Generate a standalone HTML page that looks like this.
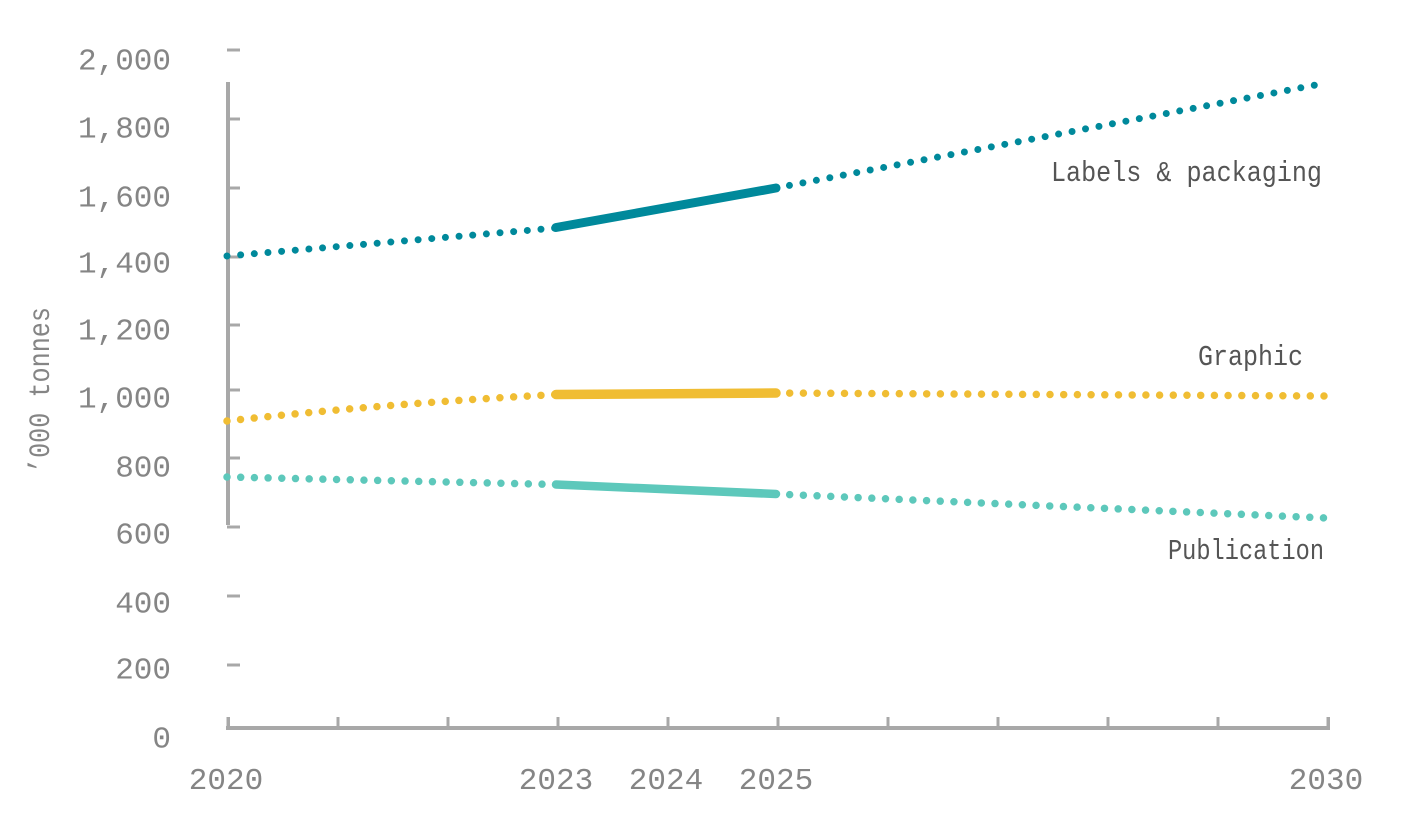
<!DOCTYPE html>
<html>
<head>
<meta charset="utf-8">
<style>
  html,body{margin:0;padding:0;background:#ffffff;}
  body{width:1425px;height:823px;overflow:hidden;}
  svg{display:block;}
  .tick{font-family:"Liberation Mono","DejaVu Sans Mono",monospace;font-size:31px;fill:#858585;}
  .cat{font-family:"Liberation Mono","DejaVu Sans Mono",monospace;font-size:29px;fill:#555555;}
</style>
</head>
<body>
<svg width="1425" height="823" viewBox="0 0 1425 823" xmlns="http://www.w3.org/2000/svg">
  <!-- Y axis -->
  <line x1="228" y1="82" x2="228" y2="525" stroke="#a8a8a8" stroke-width="4"/>
  <g fill="#a8a8a8">
    <rect x="227" y="48.5" width="13" height="3"/>
    <rect x="227" y="117.5" width="13" height="3"/>
    <rect x="227" y="186.5" width="13" height="3"/>
    <rect x="227" y="255.5" width="13" height="3"/>
    <rect x="227" y="323.5" width="13" height="3"/>
    <rect x="227" y="388.5" width="13" height="3"/>
    <rect x="227" y="456.5" width="13" height="3"/>
    <rect x="227" y="525.5" width="13" height="3"/>
    <rect x="227" y="594.5" width="13" height="3"/>
    <rect x="227" y="663.5" width="13" height="3"/>
  </g>
  <!-- Y labels -->
  <g class="tick" text-anchor="end">
    <text x="171" y="69.5">2,000</text>
    <text x="171" y="137.5">1,800</text>
    <text x="171" y="206.5">1,600</text>
    <text x="171" y="272.5">1,400</text>
    <text x="171" y="339.5">1,200</text>
    <text x="171" y="407.5">1,000</text>
    <text x="171" y="476.5">800</text>
    <text x="171" y="543.5">600</text>
    <text x="171" y="612.5">400</text>
    <text x="171" y="678.5">200</text>
    <text x="171" y="747.5">0</text>
  </g>
  <!-- Y title -->
  <text class="tick" style="font-size:30px" transform="translate(49,390) rotate(-90)" text-anchor="middle" textLength="166" lengthAdjust="spacingAndGlyphs">’000 tonnes</text>

  <!-- X axis -->
  <line x1="226" y1="728" x2="1330" y2="728" stroke="#a8a8a8" stroke-width="4"/>
  <g fill="#a8a8a8">
    <rect x="226.5" y="717" width="3.5" height="11"/>
    <rect x="336.5" y="717" width="3" height="11"/>
    <rect x="446.5" y="717" width="3" height="11"/>
    <rect x="556.5" y="717" width="3" height="11"/>
    <rect x="666.5" y="717" width="3" height="11"/>
    <rect x="776.5" y="717" width="3" height="11"/>
    <rect x="886.5" y="717" width="3" height="11"/>
    <rect x="996.5" y="717" width="3" height="11"/>
    <rect x="1106.5" y="717" width="3" height="11"/>
    <rect x="1216.5" y="717" width="3" height="11"/>
    <rect x="1326.5" y="717" width="3.5" height="11"/>
  </g>
  <g class="tick" text-anchor="middle">
    <text x="226" y="789">2020</text>
    <text x="556" y="789">2023</text>
    <text x="666" y="789">2024</text>
    <text x="776" y="789">2025</text>
    <text x="1326" y="789">2030</text>
  </g>

  <!-- Labels & packaging -->
  <g stroke="#00899b" fill="none" stroke-linecap="round">
    <path d="M227,256 L556,228" stroke-width="7" stroke-dasharray="0 13.7"/>
    <path d="M556,227.5 L776,188" stroke-width="9"/>
    <path d="M776,188 L1326,83" stroke-width="7" stroke-dasharray="0 13.7"/>
  </g>
  <!-- Graphic -->
  <g stroke="#f0bd33" fill="none" stroke-linecap="round">
    <path d="M227,421 Q380,404 556,394.5" stroke-width="7.5" stroke-dasharray="0 13.7"/>
    <path d="M556,394.5 L776,393" stroke-width="9.5"/>
    <path d="M776,393 L1326,396" stroke-width="7.5" stroke-dasharray="0 13.7"/>
  </g>
  <!-- Publication -->
  <g stroke="#5dc8bb" fill="none" stroke-linecap="round">
    <path d="M227,477 L556,484.5" stroke-width="7.5" stroke-dasharray="0 13.7"/>
    <path d="M556,484.5 L776,494" stroke-width="8.5"/>
    <path d="M776,494 L1326,518" stroke-width="7.5" stroke-dasharray="0 13.7"/>
  </g>

  <!-- Category labels -->
  <text class="cat" x="1051" y="181" textLength="271" lengthAdjust="spacingAndGlyphs">Labels &amp; packaging</text>
  <text class="cat" x="1198" y="365" textLength="105" lengthAdjust="spacingAndGlyphs">Graphic</text>
  <text class="cat" x="1168" y="559" textLength="156" lengthAdjust="spacingAndGlyphs">Publication</text>
</svg>
</body>
</html>
